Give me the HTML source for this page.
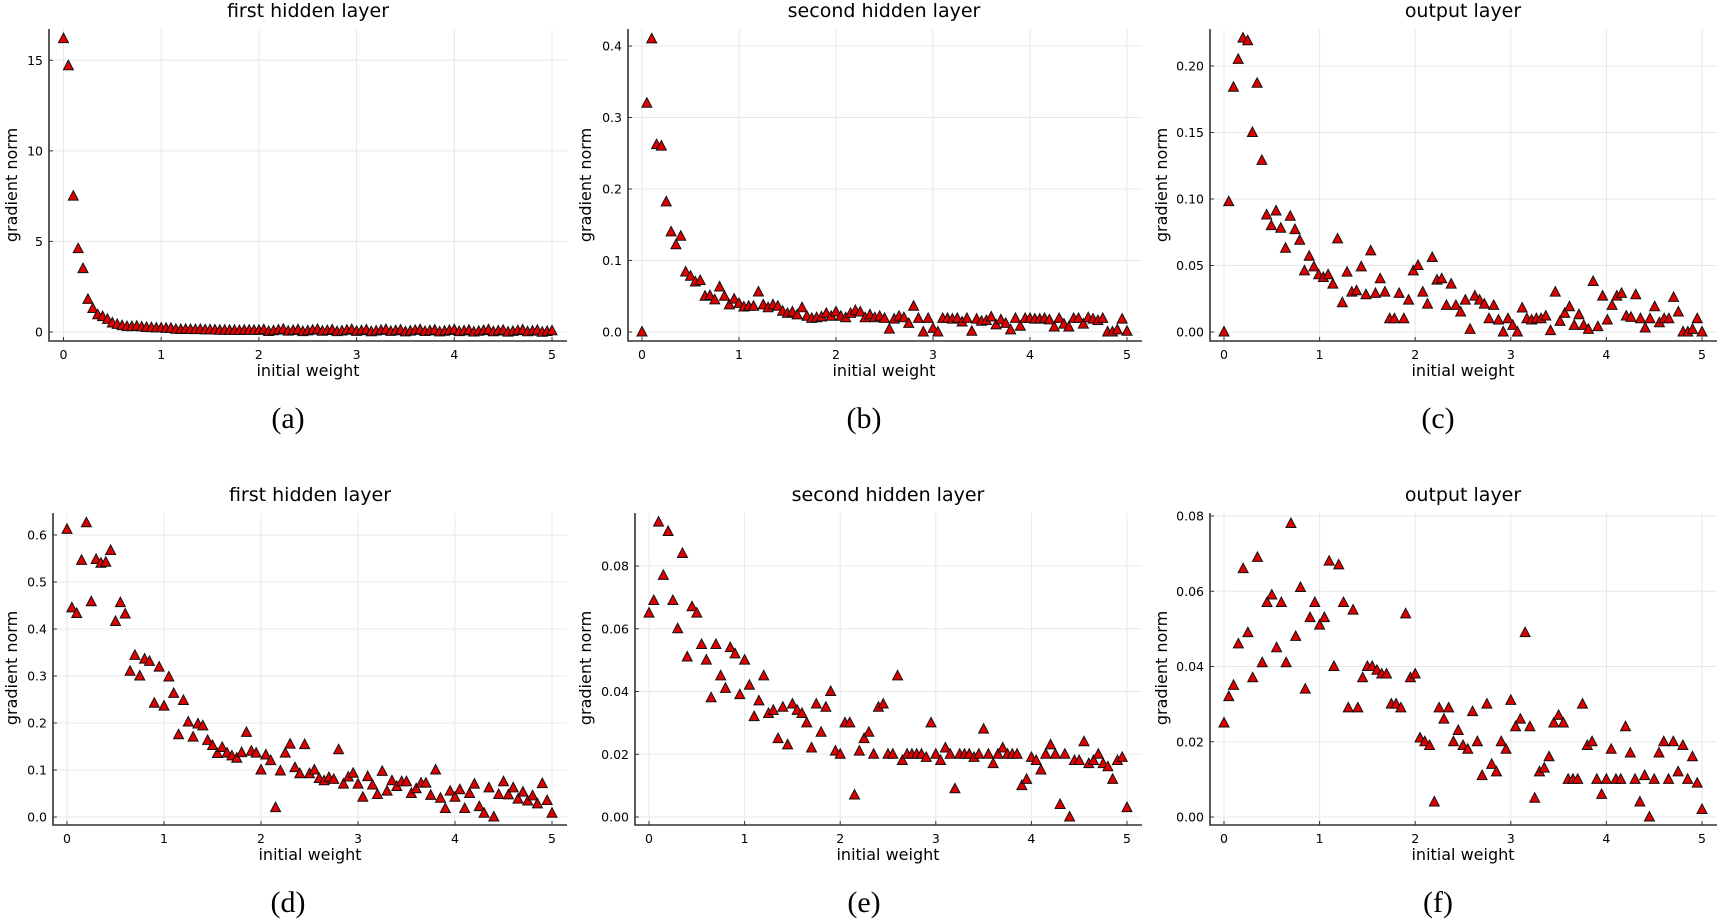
<!DOCTYPE html>
<html><head><meta charset="utf-8"><style>
html,body{margin:0;padding:0;background:#fff;}
svg text{font-family:"DejaVu Sans","Liberation Sans",sans-serif;fill:#000;}
svg text.cap{font-family:"Liberation Serif","DejaVu Serif",serif;}
</style></head><body>
<svg id="s" width="1725" height="919" xmlns="http://www.w3.org/2000/svg">
<g font-size="12.5">
<text x="308" y="17" font-size="19" text-anchor="middle">first hidden layer</text>
<text x="884" y="17" font-size="19" text-anchor="middle">second hidden layer</text>
<text x="1463" y="17" font-size="19" text-anchor="middle">output layer</text>
<text x="310" y="501" font-size="19" text-anchor="middle">first hidden layer</text>
<text x="888" y="501" font-size="19" text-anchor="middle">second hidden layer</text>
<text x="1463" y="501" font-size="19" text-anchor="middle">output layer</text>

<text x="308" y="376" font-size="16" text-anchor="middle">initial weight</text>
<text x="884" y="376" font-size="16" text-anchor="middle">initial weight</text>
<text x="1463" y="376" font-size="16" text-anchor="middle">initial weight</text>
<text x="310" y="860" font-size="16" text-anchor="middle">initial weight</text>
<text x="888" y="860" font-size="16" text-anchor="middle">initial weight</text>
<text x="1463" y="860" font-size="16" text-anchor="middle">initial weight</text>

<text transform="translate(17,185) rotate(-90)" font-size="16" text-anchor="middle">gradient norm</text>
<text transform="translate(591,185) rotate(-90)" font-size="16" text-anchor="middle">gradient norm</text>
<text transform="translate(1167,185) rotate(-90)" font-size="16" text-anchor="middle">gradient norm</text>
<text transform="translate(17,668) rotate(-90)" font-size="16" text-anchor="middle">gradient norm</text>
<text transform="translate(591,668) rotate(-90)" font-size="16" text-anchor="middle">gradient norm</text>
<text transform="translate(1167,668) rotate(-90)" font-size="16" text-anchor="middle">gradient norm</text>

<text class="cap" x="288" y="428" font-size="30" text-anchor="middle">(a)</text>
<text class="cap" x="864" y="428" font-size="30" text-anchor="middle">(b)</text>
<text class="cap" x="1438" y="428" font-size="30" text-anchor="middle">(c)</text>
<text class="cap" x="288" y="912" font-size="30" text-anchor="middle">(d)</text>
<text class="cap" x="864" y="912" font-size="30" text-anchor="middle">(e)</text>
<text class="cap" x="1438" y="912" font-size="30" text-anchor="middle">(f)</text>
</g>
<g id="plots"></g>
</svg>
<script>
var P=[
{L:49,R:567,T:29,B:341,x0:63.5,x5:552,y0:332,yv:15,yp:60.3,ticks:[[0,"0"],[5,"5"],[10,"10"],[15,"15"]],
d:(function(){var a=[16.2,14.7,7.5,4.6,3.5,1.8,1.3,0.95,0.85,0.7,0.5,0.42,0.35,0.3,0.3,0.32,0.28,0.25,0.24,0.22,0.22,0.2,0.2,0.15,0.14,0.15,0.14,0.13,0.14,0.12,0.12,0.11,0.1,0.1,0.09,0.09,0.08,0.1,0.1,0.09];while(a.length<101){var i=a.length;a.push(0.09-0.0007*(i-40)+((i*37)%7-3)*0.02);}return a;})()},
{L:628,R:1142,T:29,B:341,x0:642,x5:1127,y0:332,yv:0.4,yp:46,ticks:[[0,"0.0"],[0.1,"0.1"],[0.2,"0.2"],[0.3,"0.3"],[0.4,"0.4"]],
d:[0,.32,.41,.262,.26,.182,.14,.122,.134,.084,.078,.07,.072,.05,.051,.045,.063,.05,.038,.046,.04,.035,.036,.036,.056,.038,.034,.038,.036,.029,.026,.028,.024,.034,.022,.019,.02,.021,.026,.022,.028,.022,.02,.026,.03,.028,.02,.024,.02,.022,.019,.004,.018,.022,.02,.012,.036,.019,0,.019,.005,0,.019,.019,.018,.019,.014,.019,.001,.018,.015,.016,.021,.01,.017,.012,.003,.019,.008,.019,.019,.018,.018,.019,.017,.007,.019,.011,.007,.019,.019,.011,.02,.018,.016,.019,0,0,.003,.018,.001]},
{L:1210,R:1717,T:29,B:341,x0:1224,x5:1702,y0:332,yv:0.2,yp:66,ticks:[[0,"0.00"],[0.05,"0.05"],[0.1,"0.10"],[0.15,"0.15"],[0.2,"0.20"]],
d:[0,.098,.184,.205,.221,.219,.15,.187,.129,.088,.08,.091,.078,.063,.087,.077,.069,.046,.057,.049,.043,.041,.043,.036,.07,.022,.045,.03,.031,.049,.028,.061,.029,.04,.03,.01,.01,.029,.01,.024,.046,.05,.03,.021,.056,.039,.04,.02,.036,.02,.015,.024,.002,.027,.024,.021,.01,.02,.009,0,.01,.005,0,.018,.01,.009,.01,.01,.012,.001,.03,.008,.014,.019,.005,.013,.005,.002,.038,.004,.027,.009,.02,.027,.029,.012,.011,.028,.01,.003,.01,.019,.007,.01,.01,.026,.015,0,0,.002,.01,0]},
{L:53,R:567,T:513,B:825,x0:67,x5:552,y0:817,yv:0.6,yp:535,ticks:[[0,"0.0"],[0.1,"0.1"],[0.2,"0.2"],[0.3,"0.3"],[0.4,"0.4"],[0.5,"0.5"],[0.6,"0.6"]],
d:[.612,.445,.433,.546,.626,.458,.548,.54,.542,.567,.416,.456,.432,.31,.344,.3,.336,.331,.242,.319,.236,.298,.263,.175,.248,.202,.17,.198,.194,.163,.152,.135,.148,.136,.13,.125,.137,.18,.14,.136,.1,.132,.12,.02,.098,.136,.155,.105,.092,.154,.092,.1,.082,.077,.084,.08,.143,.07,.085,.093,.07,.042,.086,.068,.048,.097,.055,.077,.065,.075,.075,.05,.06,.072,.072,.046,.1,.04,.018,.055,.042,.058,.018,.05,.07,.022,.008,.062,0,.048,.075,.047,.062,.038,.053,.034,.045,.028,.071,.035,.008]},
{L:635,R:1142,T:513,B:825,x0:649,x5:1127,y0:817,yv:0.08,yp:566,ticks:[[0,"0.00"],[0.02,"0.02"],[0.04,"0.04"],[0.06,"0.06"],[0.08,"0.08"]],
d:[.065,.069,.094,.077,.091,.069,.06,.084,.051,.067,.065,.055,.05,.038,.055,.045,.041,.054,.052,.039,.05,.042,.032,.037,.045,.033,.034,.025,.035,.023,.036,.034,.033,.03,.022,.036,.027,.035,.04,.021,.02,.03,.03,.007,.021,.025,.027,.02,.035,.036,.02,.02,.045,.018,.02,.02,.02,.02,.019,.03,.02,.018,.022,.02,.009,.02,.02,.02,.019,.02,.028,.02,.017,.02,.022,.02,.02,.02,.01,.012,.019,.018,.015,.02,.023,.02,.004,.02,0,.018,.018,.024,.017,.018,.02,.017,.016,.012,.018,.019,.003]},
{L:1210,R:1717,T:513,B:825,x0:1224,x5:1702,y0:817,yv:0.08,yp:516,ticks:[[0,"0.00"],[0.02,"0.02"],[0.04,"0.04"],[0.06,"0.06"],[0.08,"0.08"]],
d:[.025,.032,.035,.046,.066,.049,.037,.069,.041,.057,.059,.045,.057,.041,.078,.048,.061,.034,.053,.057,.051,.053,.068,.04,.067,.057,.029,.055,.029,.037,.04,.04,.039,.038,.038,.03,.03,.029,.054,.037,.038,.021,.02,.019,.004,.029,.026,.029,.02,.023,.019,.018,.028,.02,.011,.03,.014,.012,.02,.018,.031,.024,.026,.049,.024,.005,.012,.013,.016,.025,.027,.025,.01,.01,.01,.03,.019,.02,.01,.006,.01,.018,.01,.01,.024,.017,.01,.004,.011,0,.01,.017,.02,.01,.02,.012,.019,.01,.016,.009,.002]}
];
var g=document.getElementById("plots"),h="";
P.forEach(function(p){
 var sx=function(v){return p.x0+(p.x5-p.x0)*v/5;},sy=function(v){return p.y0+(p.yp-p.y0)*v/p.yv;};
 for(var k=0;k<=5;k++){var x=sx(k);h+='<line x1="'+x+'" y1="'+p.T+'" x2="'+x+'" y2="'+p.B+'" stroke="#e8e8e8" stroke-width="1"/>';
  h+='<line x1="'+x+'" y1="'+p.B+'" x2="'+x+'" y2="'+(p.B-4)+'" stroke="#333" stroke-width="1"/>';
  h+='<text x="'+x+'" y="'+(p.B+18)+'" font-size="12.5" text-anchor="middle">'+k+'</text>';}
 p.ticks.forEach(function(t){var y=sy(t[0]);h+='<line x1="'+p.L+'" y1="'+y+'" x2="'+p.R+'" y2="'+y+'" stroke="#e8e8e8" stroke-width="1"/>';
  h+='<line x1="'+p.L+'" y1="'+y+'" x2="'+(p.L+4)+'" y2="'+y+'" stroke="#333" stroke-width="1"/>';
  h+='<text x="'+(p.L-6)+'" y="'+(y+4.5)+'" font-size="12.5" text-anchor="end">'+t[1]+'</text>';});
 h+='<path d="M'+p.L+' '+p.T+'V'+p.B+'H'+p.R+'" fill="none" stroke="#333" stroke-width="1.6"/>';
 var n=p.d.length;
 p.d.forEach(function(v,i){var x=sx(i*5/(n-1)),y=sy(v);
  h+='<path d="M'+(x-5)+' '+(y+4)+'L'+x+' '+(y-5.5)+'L'+(x+5)+' '+(y+4)+'Z" fill="#e00000" stroke="#111" stroke-width="1"/>';});
});
g.innerHTML=h;
</script>
</body></html>
